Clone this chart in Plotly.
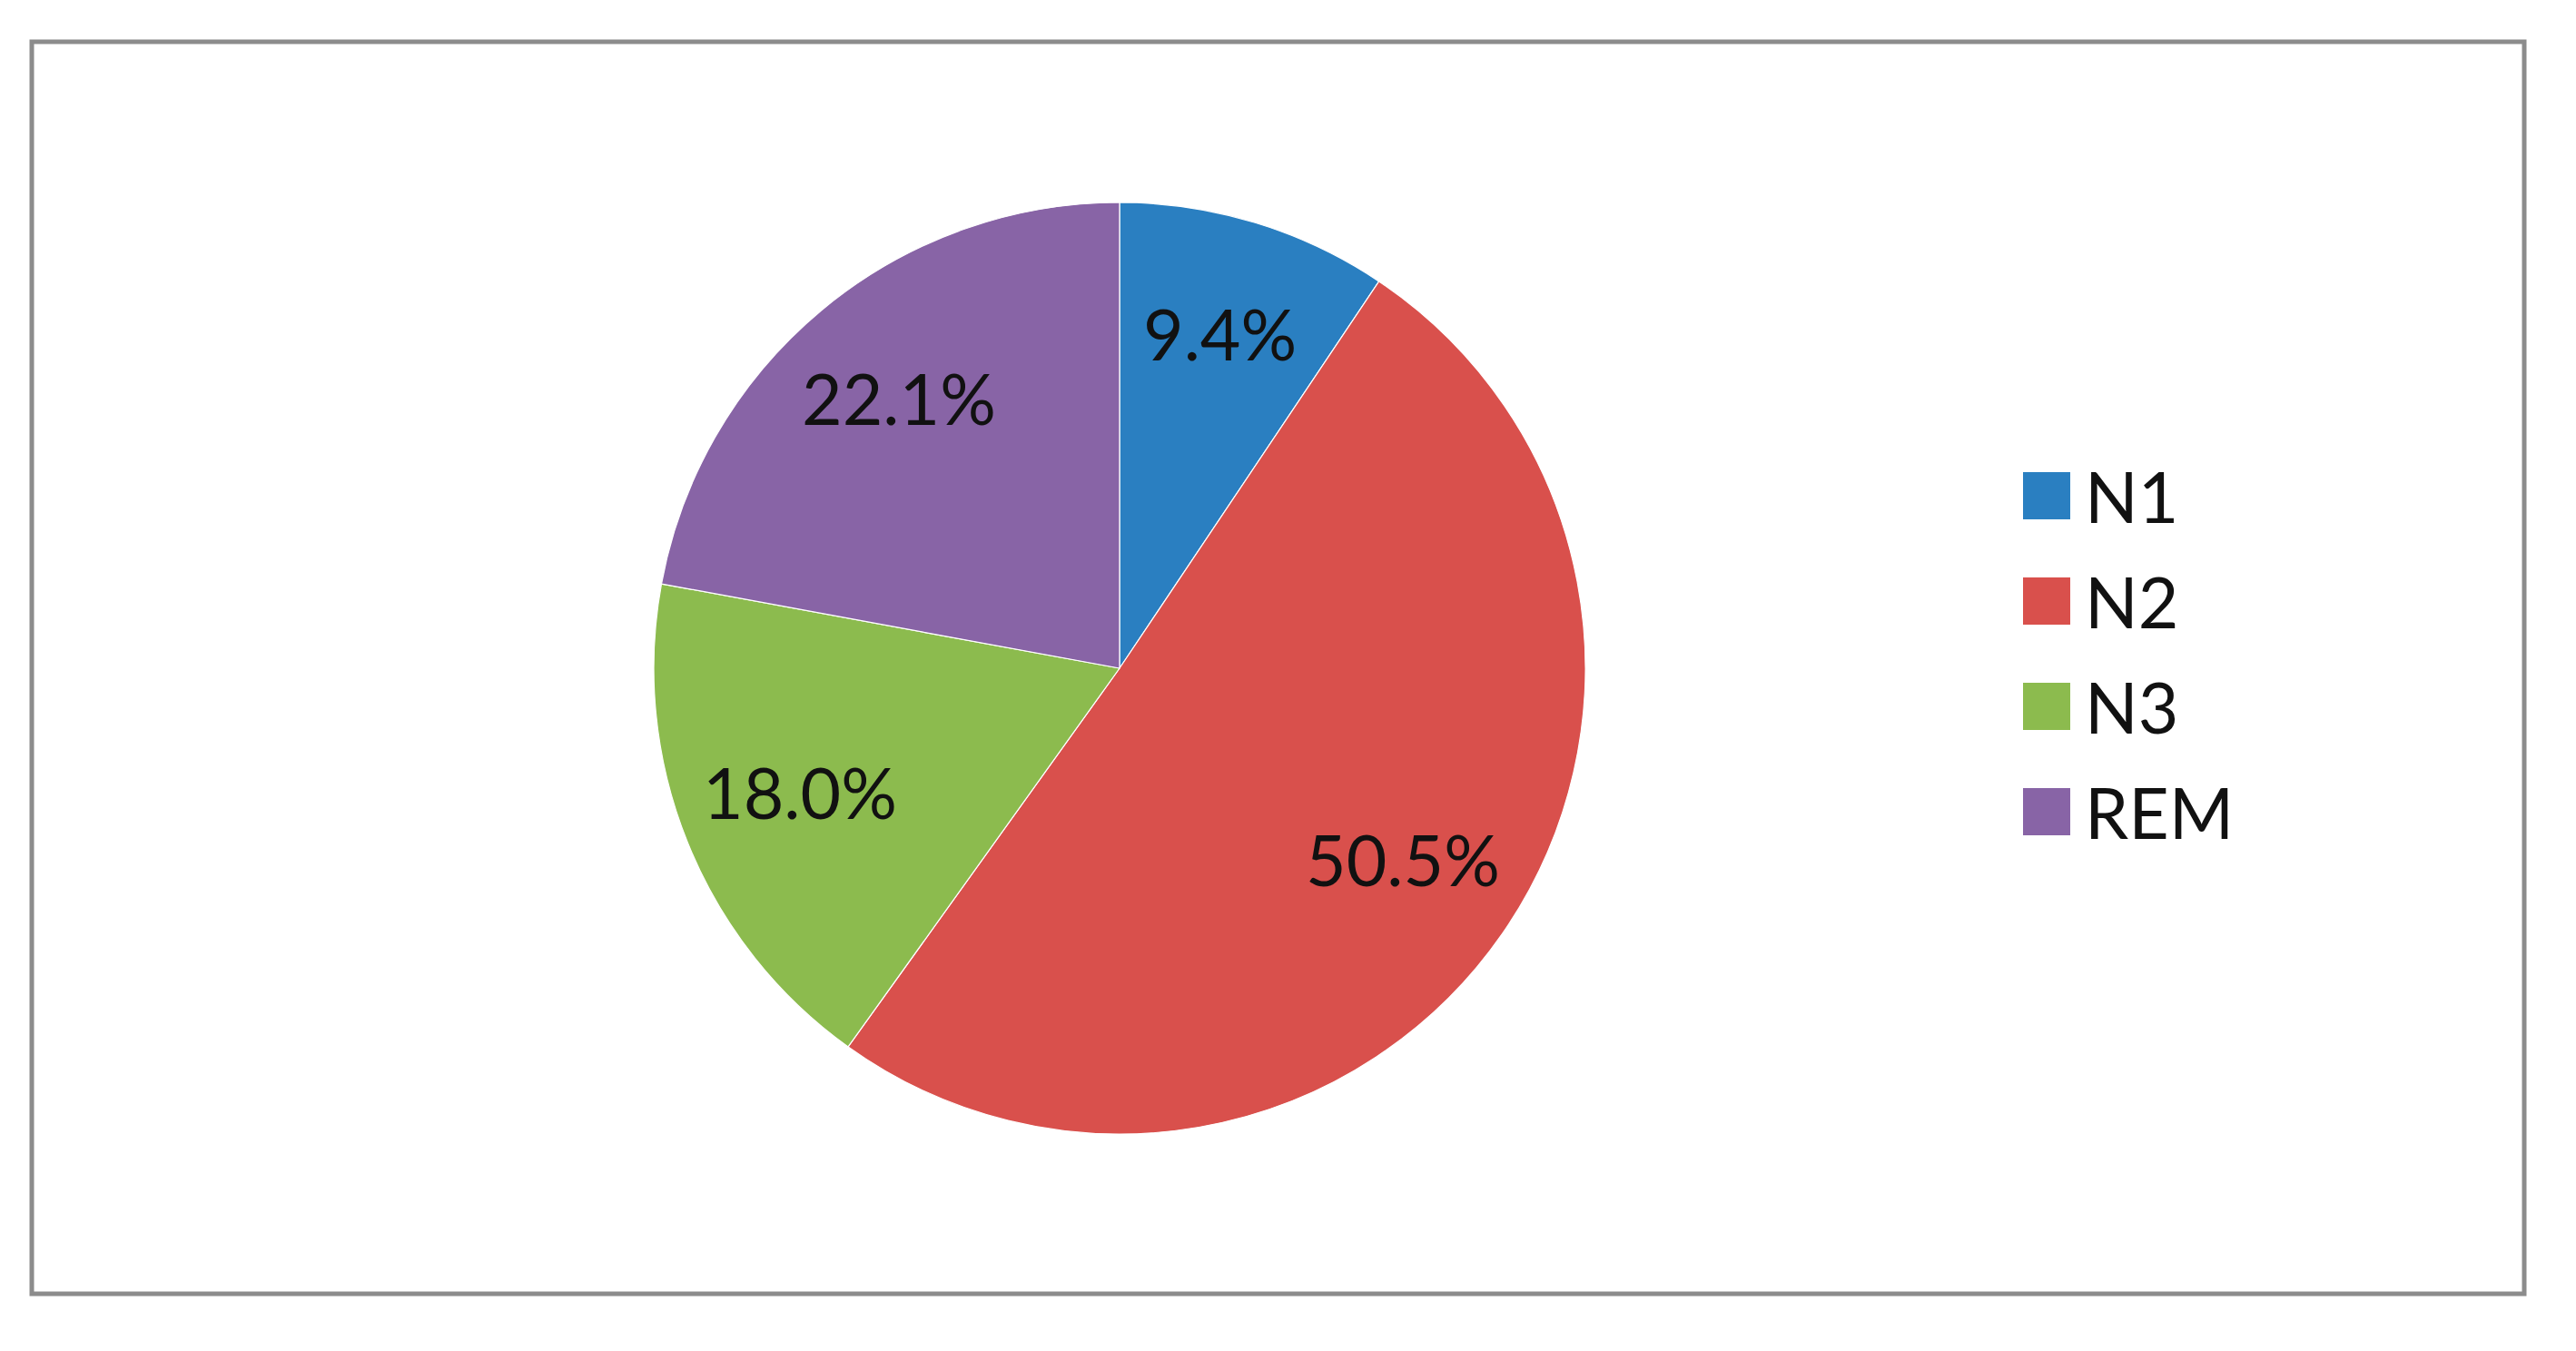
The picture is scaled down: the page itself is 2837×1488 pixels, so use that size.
import math
import plotly.graph_objects as go

labels = ["N1", "N2", "N3", "REM"]
values = [9.4, 50.5, 18.0, 22.1]
colors = ["#2a7fc1", "#d9504c", "#8cbb4e", "#8864a6"]

W, H = 2837, 1488
OFF = 8  # browser default body margin
FONT = "Lato"
FS = 77

# pie geometry (pixels in the page)
CX, CY, R = 1233 - OFF, 736 - OFF, 513
LABEL_R = 0.74

fig = go.Figure()
fig.add_trace(go.Pie(
    labels=labels,
    values=values,
    sort=False,
    direction="clockwise",
    rotation=0,
    marker=dict(colors=colors, line=dict(color="white", width=1.2)),
    textinfo="none",
    showlegend=False,
    hoverinfo="label+value",
    domain=dict(x=[(CX - R) / W, (CX + R) / W], y=[(H - CY - R) / H, (H - CY + R) / H]),
))

annotations = []
total = sum(values)
cum = 0.0
for lab, v in zip(labels, values):
    mid = (cum + v / 2) / total * 2 * math.pi
    cum += v
    px = CX + LABEL_R * R * math.sin(mid)
    py = CY - LABEL_R * R * math.cos(mid)
    annotations.append(dict(xref="paper", yref="paper", x=px / W, y=(H - py) / H,
                            text=f"{v:.1f}%", showarrow=False, yshift=6,
                            xanchor="center", yanchor="middle",
                            font=dict(family=FONT, size=FS, color="#111111")))

shapes = [dict(type="rect", xref="paper", yref="paper",
               x0=(35 - OFF) / W, x1=(2780 - OFF) / W,
               y0=(H - 1425 + OFF) / H, y1=(H - 46 + OFF) / H,
               line=dict(color="#8c8c8c", width=5), fillcolor="rgba(0,0,0,0)")]
leg_x0, sq = 2228 - OFF, 52
row_y = [546 - OFF, 662 - OFF, 778 - OFF, 894 - OFF]
for lab, col, yc in zip(labels, colors, row_y):
    shapes.append(dict(type="rect", xref="paper", yref="paper",
                       x0=leg_x0 / W, x1=(leg_x0 + sq) / W,
                       y0=(H - yc - sq / 2) / H, y1=(H - yc + sq / 2) / H,
                       line=dict(width=0), fillcolor=col))
    annotations.append(dict(xref="paper", yref="paper", x=(2294 - OFF) / W, y=(H - yc) / H,
                            text=lab, showarrow=False, xanchor="left", yanchor="middle",
                            font=dict(family=FONT, size=FS, color="#111111")))

fig.update_layout(
    width=W, height=H,
    margin=dict(l=0, r=0, t=0, b=0),
    paper_bgcolor="white", plot_bgcolor="white",
    shapes=shapes, annotations=annotations,
)
fig.write_html("out.html")
